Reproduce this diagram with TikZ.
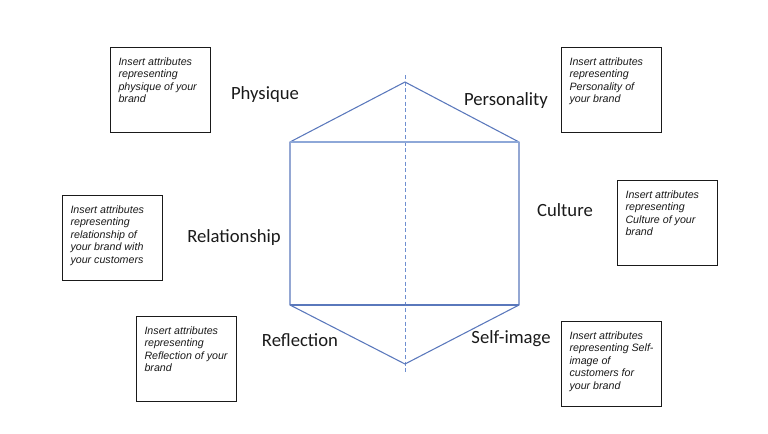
\documentclass[tikz,border=0pt]{standalone}
\usepackage{fontspec}
\setmainfont{Liberation Sans}
\newfontfamily\labelfont{Carlito}
\usetikzlibrary{positioning}
\definecolor{ink}{HTML}{1A1A1A}
\definecolor{hexline}{HTML}{5A78BC}
\definecolor{hexlight}{HTML}{8EA8D8}
\definecolor{axis}{HTML}{6F8FD0}
\tikzset{
  every node/.style = {text=ink},
  facet/.style      = {font=\labelfont\fontsize{14}{16}\selectfont, inner sep=1pt},
  attrbox/.style    = {draw=ink, line width=0.8pt, fill=white, anchor=north west,
                       inner xsep=6pt, inner ysep=7.5pt, align=left,
                       font=\itshape\fontsize{8}{9.4}\selectfont},
  hexedge/.style    = {draw=hexline, line width=0.8pt},
  hexrim/.style     = {draw=hexlight, line width=0.8pt},
  axisline/.style   = {draw=axis, line width=0.6pt, dash pattern=on 3pt off 2pt},
}
\newcommand{\attrtext}[1]{\parbox[t][48.5pt][t]{63pt}{\raggedright #1}}

\begin{document}
\begin{tikzpicture}[x=0.75pt, y=-0.75pt]
\useasboundingbox (0,0) rectangle (768,433);

% prism outline
\coordinate (top)  at (405,82);
\coordinate (ul)   at (290,142);
\coordinate (ur)   at (519,142);
\coordinate (ll)   at (290,305);
\coordinate (lr)   at (519,305);
\coordinate (bot)  at (405,364);
\coordinate (axT)  at (405,75);
\coordinate (axB)  at (405,372);

\draw[axisline] (axT) -- (axB);
\draw[hexedge] (ul) -- (top) -- (ur) -- (lr) -- (bot) -- (ll) -- cycle;
\draw[hexrim] (ul) -- (ur);
\draw[hexedge] (ll) -- (lr);

% facet labels
\node[facet] (physique)     at (265,95)  {Physique};
\node[facet] (personality)  at (506,101) {Personality};
\node[facet] (relationship) at (234,238) {Relationship};
\node[facet] (culture)      at (565,210) {Culture};
\node[facet] (reflection)   at (300,340) {Reflection};
\node[facet] (selfimage)    at (511,339) {Self-image};

% attribute boxes
\node[attrbox] (bphysique) at (110,47)
  {\attrtext{Insert attributes\\representing\\physique of your\\brand}};
\node[attrbox] (bpersonality) at (561,47)
  {\attrtext{Insert attributes\\representing\\Personality of\\your brand}};
\node[attrbox] (brelationship) at (62,195)
  {\attrtext{Insert attributes\\representing\\relationship of\\your brand with\\your customers}};
\node[attrbox] (bculture) at (617,180)
  {\attrtext{Insert attributes\\representing\\Culture of your\\brand}};
\node[attrbox] (breflection) at (136,316)
  {\attrtext{Insert attributes\\representing\\Reflection of your\\brand}};
\node[attrbox] (bselfimage) at (561,321)
  {\attrtext{Insert attributes\\representing Self-\\image of\\customers for\\your brand}};
\end{tikzpicture}
\end{document}
